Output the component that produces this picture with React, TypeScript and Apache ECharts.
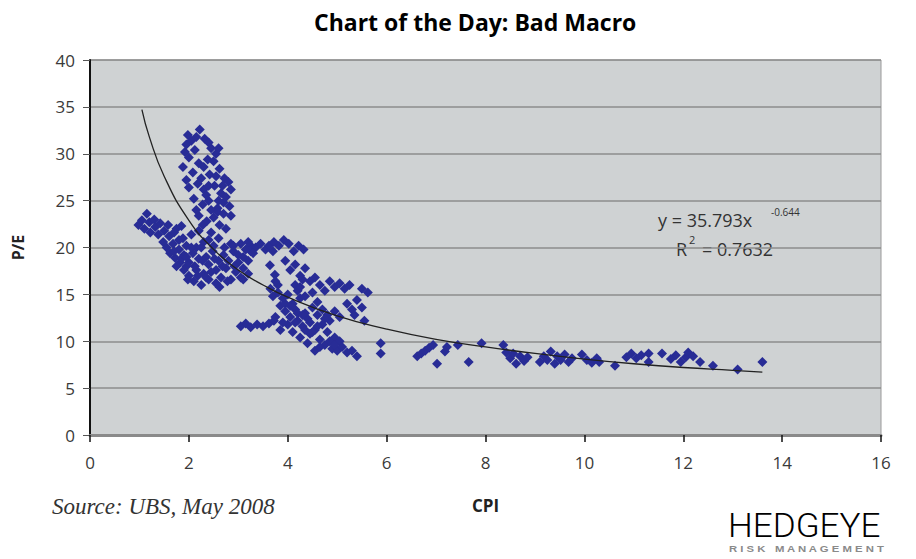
import React, { useEffect, useRef } from "react";
import * as echarts from "echarts";

const xTicks = [0, 2, 4, 6, 8, 10, 12, 14, 16];
const yTicks = [0, 5, 10, 15, 20, 25, 30, 35, 40];

// Scatter data [CPI, P/E], grouped by region
const groupLeft: number[][] = [
  [0.98, 22.4], [1.05, 22.9], [1.1, 22.0], [1.15, 23.6], [1.2, 22.7], [1.22, 21.6], [1.3, 23.0],
  [1.32, 22.2], [1.38, 21.4], [1.42, 22.6], [1.48, 20.6], [1.5, 21.8], [1.55, 20.0], [1.6, 21.2],
  [1.62, 19.4], [1.68, 20.4], [1.72, 18.9], [1.75, 22.0], [1.8, 19.8], [1.82, 18.4], [1.88, 21.0],
  [1.9, 19.2], [1.95, 18.0], [1.7, 21.6], [1.58, 22.4], [1.85, 22.3],
];
const groupColumn: number[][] = [
  [1.98, 32.0], [2.05, 31.4], [2.22, 32.6], [2.32, 31.6], [1.92, 30.2], [2.0, 29.6], [2.12, 30.4],
  [2.45, 30.6], [2.55, 30.0], [2.5, 29.2], [1.88, 28.6], [2.08, 28.0], [2.3, 28.6], [2.42, 27.8],
  [2.62, 28.4], [2.72, 27.4], [2.8, 27.0], [2.18, 26.8], [2.3, 26.2], [2.52, 26.6], [2.65, 25.8],
  [2.75, 25.4], [2.1, 25.2], [2.28, 24.6], [2.4, 25.0], [2.58, 24.2], [2.7, 23.6], [2.82, 24.4],
  [2.2, 23.4], [2.36, 22.8], [2.5, 23.2], [2.62, 22.4], [2.2, 21.8], [2.45, 21.6], [2.75, 22.0],
  [2.3, 20.6], [2.6, 21.0], [2.05, 21.4], [1.95, 31.0], [2.15, 31.8], [2.4, 31.2], [2.38, 29.4],
  [2.2, 29.0], [2.6, 30.6], [1.95, 27.2], [2.25, 27.4], [2.55, 27.6], [2.68, 26.6], [2.85, 26.2],
  [2.0, 26.4], [2.4, 26.6], [2.15, 24.0], [2.45, 24.0], [2.35, 25.6], [2.6, 25.0], [2.7, 24.8],
  [2.85, 23.4], [2.28, 22.4], [2.58, 23.8], [2.4, 20.8], [2.5, 20.2], [2.15, 20.0],
];
const groupDense: number[][] = [
  [1.7, 19.6], [1.85, 18.8], [1.95, 20.2], [2.0, 18.4], [2.08, 19.4], [2.15, 17.6], [2.2, 18.8],
  [2.25, 20.0], [2.3, 17.2], [2.35, 19.0], [2.4, 18.2], [2.48, 19.6], [2.55, 17.6], [2.6, 18.6],
  [2.65, 16.8], [2.7, 19.2], [2.75, 17.8], [2.8, 18.6], [2.85, 16.6], [2.9, 19.6], [2.95, 17.4],
  [3.0, 18.4], [3.05, 16.8], [3.1, 17.8], [2.1, 16.4], [2.4, 16.6], [2.62, 15.8], [2.0, 17.0],
  [1.9, 17.6], [2.85, 20.4], [3.0, 19.2], [3.2, 18.6], [2.55, 16.2], [2.25, 16.0], [1.8, 20.8],
  [1.75, 18.0], [1.95, 19.0], [2.05, 20.0], [2.12, 18.0], [2.28, 18.6], [2.45, 17.4], [2.52, 18.8],
  [2.68, 18.0], [2.78, 16.4], [2.92, 18.0], [3.1, 16.6], [3.2, 17.2], [2.35, 16.8], [2.18, 17.0],
  [1.98, 16.6], [2.72, 20.0], [3.1, 19.0], [3.25, 19.6],
];
const groupBand: number[][] = [
  [2.9, 20.2], [3.05, 20.4], [3.15, 19.8], [3.25, 20.2], [3.35, 20.0], [3.45, 20.4], [3.55, 19.8],
  [3.62, 20.2], [3.72, 20.6], [3.82, 20.2], [3.92, 20.8], [4.02, 20.4], [4.12, 19.6], [4.22, 20.2],
  [4.32, 19.8], [3.3, 19.4], [3.7, 19.6], [3.2, 20.6], [3.64, 18.1], [3.74, 17.1], [3.8, 16.0],
];
const groupRow: number[][] = [
  [3.05, 11.6], [3.15, 11.9], [3.25, 11.5], [3.38, 11.8], [3.5, 11.6], [3.62, 11.9], [3.72, 12.2],
];
const groupMid: number[][] = [
  [3.65, 15.6], [3.7, 14.8], [3.75, 16.4], [3.8, 15.2], [3.85, 13.8], [3.9, 14.6], [3.95, 13.2],
  [4.0, 15.0], [4.05, 12.6], [4.1, 14.0], [4.15, 13.4], [4.2, 12.2], [4.25, 14.6], [4.3, 11.6],
  [4.35, 13.0], [4.4, 12.4], [4.45, 10.8], [4.5, 13.6], [4.55, 11.2], [4.6, 12.8], [4.65, 10.2],
  [4.7, 11.8], [4.75, 9.6], [4.8, 11.0], [4.85, 12.2], [4.9, 9.2], [4.95, 10.4], [5.0, 9.0],
  [5.05, 10.0], [4.0, 11.8], [4.1, 11.0], [4.25, 10.4], [4.4, 9.8], [4.55, 9.0], [4.2, 15.4],
  [4.35, 14.8], [4.5, 15.2], [3.9, 12.0], [3.75, 12.6], [3.85, 11.2], [4.6, 14.2], [4.7, 13.4],
  [4.8, 12.8], [4.15, 16.0], [4.3, 16.6], [5.1, 9.4], [5.2, 8.8], [3.95, 14.0], [4.05, 13.8],
  [4.2, 13.0], [4.3, 12.8], [4.45, 12.0], [4.5, 11.0], [4.6, 11.6], [4.35, 11.2], [4.15, 12.0],
  [4.65, 9.4], [4.85, 10.0], [4.95, 9.6], [5.3, 9.0], [5.4, 8.4], [4.75, 12.4], [4.25, 15.8],
];
const groupUpperRight: number[][] = [
  [3.95, 18.6], [4.05, 17.6], [4.15, 18.2], [4.25, 17.0], [4.35, 17.8], [4.45, 16.4], [4.55, 16.8],
  [4.65, 16.0], [4.75, 15.4], [4.85, 16.4], [4.95, 15.8], [5.05, 16.2], [5.15, 15.6], [5.25, 16.0],
  [5.5, 15.6], [5.62, 15.2], [5.2, 14.0], [5.3, 13.4], [5.4, 14.4], [5.35, 12.8], [5.5, 13.6],
  [5.55, 12.2], [4.95, 13.2], [5.05, 12.6],
];
const groupTail: number[][] = [
  [5.88, 9.8], [5.88, 8.7], [6.62, 8.4], [6.7, 8.7], [6.78, 9.0], [6.86, 9.3], [6.94, 9.6],
  [7.02, 7.6], [7.18, 8.9], [7.22, 9.4], [7.44, 9.6], [7.66, 7.8], [7.92, 9.8], [8.36, 9.6],
  [8.42, 8.8], [8.5, 8.2], [8.56, 8.7], [8.62, 7.6], [8.7, 8.4], [8.78, 7.9], [8.85, 8.3],
  [9.1, 7.8], [9.18, 8.4], [9.25, 8.0], [9.32, 8.9], [9.4, 7.6], [9.45, 8.4], [9.52, 8.0],
  [9.6, 8.6], [9.68, 7.8], [9.75, 8.2], [9.95, 8.6], [10.05, 8.0], [10.15, 7.7], [10.25, 8.2],
  [10.3, 7.8], [10.62, 7.4], [10.85, 8.3], [10.95, 8.7], [11.05, 8.2], [11.15, 8.5], [11.3, 8.7],
  [11.3, 7.8], [11.57, 8.7], [11.75, 8.1], [11.85, 8.5], [11.95, 7.8], [12.05, 8.3], [12.1, 8.8],
  [12.2, 8.4], [12.34, 7.8], [12.6, 7.4], [13.1, 7.0], [13.6, 7.8],
];

// Power trend line
const trendCPI = [1.05, 1.2, 1.5, 2, 2.5, 3, 3.5, 4, 5, 6, 7, 8, 9, 10, 11, 12, 13, 13.6];
const trendPE = [34.7, 31.8, 27.6, 22.9, 19.8, 17.6, 16.0, 14.7, 12.7, 11.3, 10.2, 9.4, 8.7, 8.1, 7.6, 7.2, 6.9, 6.7];

export default function App() {
  const ref = useRef<HTMLDivElement>(null);
  useEffect(() => {
    if (!ref.current) return;
    const chart = echarts.init(ref.current, undefined, { renderer: "svg" });
    const points = [
      ...groupLeft, ...groupColumn, ...groupDense, ...groupBand,
      ...groupRow, ...groupMid, ...groupUpperRight, ...groupTail,
    ];
    const labelFont = { fontFamily: "Open Sans", fontSize: 17, color: "#3a3a3a" };
    chart.setOption({
      animation: false,
      backgroundColor: "#ffffff",
      title: {
        text: "Chart of the Day: Bad Macro",
        left: 309,
        top: 5,
        textStyle: { fontFamily: "Open Sans", fontWeight: "bold", fontSize: 23, color: "#000" },
      },
      grid: {
        left: 90, right: 35, top: 60, bottom: 124,
        show: true, backgroundColor: "#cfd2d3", borderColor: "#9a9a9a", borderWidth: 1,
      },
      xAxis: {
        type: "value", min: xTicks[0], max: xTicks[xTicks.length - 1], interval: 2,
        name: "CPI", nameLocation: "middle", nameGap: 62,
        nameTextStyle: { fontFamily: "Open Sans", fontWeight: "bold", fontSize: 17, color: "#222" },
        axisLine: { onZero: false, lineStyle: { color: "#8a8a8a", width: 3 } },
        axisTick: { show: true, length: 7, lineStyle: { color: "#111", width: 1.5 } },
        axisLabel: { ...labelFont, margin: 19 },
        splitLine: { show: false },
      },
      yAxis: {
        type: "value", min: yTicks[0], max: yTicks[yTicks.length - 1], interval: 5,
        name: "P/E", nameLocation: "middle", nameGap: 64, nameRotate: 90,
        nameTextStyle: { fontFamily: "Open Sans", fontWeight: "bold", fontSize: 16, color: "#222" },
        axisLine: { show: true, onZero: false, lineStyle: { color: "#111", width: 2 } },
        axisTick: { show: true, length: 7, lineStyle: { color: "#555", width: 1 } },
        axisLabel: { ...labelFont, margin: 15 },
        splitLine: { show: true, lineStyle: { color: "#8c8c8c", width: 1.5 } },
      },
      series: [
        {
          type: "scatter",
          symbol: "diamond",
          symbolSize: 10,
          itemStyle: { color: "#282c96", opacity: 1 },
          data: points,
          z: 2,
        },
        {
          type: "line",
          data: trendCPI.map((x, i) => [x, trendPE[i]]),
          smooth: true,
          symbol: "none",
          lineStyle: { color: "#222", width: 1.3 },
          z: 3,
        },
      ],
      graphic: [
        {
          type: "text", left: 658, top: 211,
          style: { text: "y = 35.793x", font: "18px 'Open Sans'", fill: "#333" },
        },
        {
          type: "text", left: 771, top: 207,
          style: { text: "-0.644", font: "10px 'Open Sans'", fill: "#333" },
        },
        {
          type: "text", left: 676, top: 240,
          style: { text: "R", font: "18px 'Open Sans'", fill: "#333" },
        },
        {
          type: "text", left: 689, top: 234,
          style: { text: "2", font: "11px 'Open Sans'", fill: "#333" },
        },
        {
          type: "text", left: 702, top: 240,
          style: { text: "= 0.7632", font: "18px 'Open Sans'", fill: "#333" },
        },
        {
          type: "text", left: 52, top: 495,
          style: { text: "Source: UBS, May 2008", font: "italic 23px 'Liberation Serif'", fill: "#333" },
        },
        {
          type: "text", x: 728, y: 525, scaleX: 1.03,
          style: {
            text: "{a|HEDG}{b|EYE}",
            verticalAlign: "middle",
            rich: {
              a: { fontFamily: "Roboto", fontWeight: 300, fontSize: 34, lineHeight: 26, color: "#7a7a7a" },
              b: { fontFamily: "Roboto", fontWeight: 300, fontSize: 34, lineHeight: 26, color: "#2e7fc8" },
            },
          },
        },
        {
          type: "text", x: 729, y: 549, scaleX: 1.26,
          style: {
            text: "R I S K   M A N A G E M E N T",
            font: "bold 9px 'Liberation Sans'", fill: "#8a8a8a", verticalAlign: "middle",
          },
        },
      ],
    });
    return () => chart.dispose();
  }, []);
  return (
    <div
      ref={ref}
      style={{ position: "fixed", left: 0, top: 0, width: 916, height: 559 }}
    />
  );
}
